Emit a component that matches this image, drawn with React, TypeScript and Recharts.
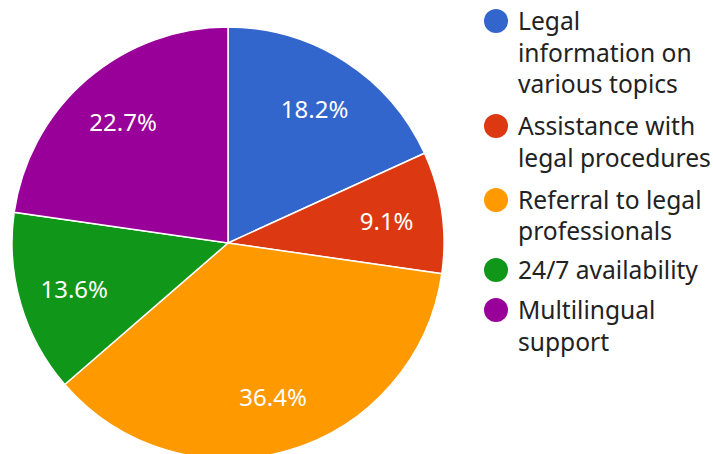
import React from "react";
import { PieChart, Pie, Cell, Legend } from "recharts";

// Chart values (legend labels wrap as in the original)
const categories = [
    "Legal\ninformation on\nvarious topics",
    "Assistance with\nlegal procedures",
    "Referral to legal\nprofessionals",
    "24/7 availability",
    "Multilingual\nsupport",
];
const counts = [4, 2, 8, 3, 5];
const COLORS = ["#3366cc", "#dc3912", "#ff9900", "#109618", "#990099"];
const ITEM_GAPS = [10.5, 10.5, 7.5, 8.5, 0];

const chartData = categories.map((name, i) => ({ name, value: counts[i] }));

const RAD = Math.PI / 180;
const FONT = "'Noto Sans', sans-serif";

// percentage label inside each slice
const renderLabel = (props: any) => {
    const { cx, cy, midAngle, outerRadius, percent } = props;
    const r = outerRadius * 0.742;
    const x = cx + r * Math.cos(-midAngle * RAD);
    const y = cy + r * Math.sin(-midAngle * RAD);
    return (
        <text
            x={x}
            y={y}
            fill="#ffffff"
            fontSize={24}
            fontFamily={FONT}
            textAnchor="middle"
            dominantBaseline="central"
        >
            {(percent * 100).toFixed(1)}%
        </text>
    );
};

const LegendList = () => (
    <div style={{ fontFamily: FONT, fontSize: 24.6, lineHeight: "31.5px", color: "#222" }}>
        {chartData.map((entry, i) => (
            <div key={entry.name} style={{ display: "flex", marginBottom: ITEM_GAPS[i] }}>
                <span
                    style={{
                        width: 24,
                        height: 24,
                        borderRadius: 12,
                        background: COLORS[i],
                        flex: "0 0 24px",
                        marginTop: 4,
                        marginRight: 10,
                    }}
                />
                <span style={{ whiteSpace: "pre" }}>{entry.name}</span>
            </div>
        ))}
    </div>
);

const App: React.FC = () => {
    return (
        <div style={{ position: "absolute", left: 0, top: 0, background: "#fff" }}>
            <PieChart width={713} height={454} margin={{ top: 0, right: 0, bottom: 0, left: 0 }}>
                <Pie
                    data={chartData}
                    dataKey="value"
                    nameKey="name"
                    cx={228}
                    cy={243}
                    outerRadius={216}
                    startAngle={90}
                    endAngle={-270}
                    stroke="#ffffff"
                    strokeWidth={1.5}
                    label={renderLabel}
                    labelLine={false}
                    isAnimationActive={false}
                >
                    {chartData.map((_entry, index) => (
                        <Cell key={`cell-${index}`} fill={COLORS[index]} />
                    ))}
                </Pie>
                <Legend
                    layout="vertical"
                    align="right"
                    verticalAlign="top"
                    content={<LegendList />}
                    wrapperStyle={{ left: 484, top: 5, width: 229 }}
                />
            </PieChart>
        </div>
    );
};

export default App;
